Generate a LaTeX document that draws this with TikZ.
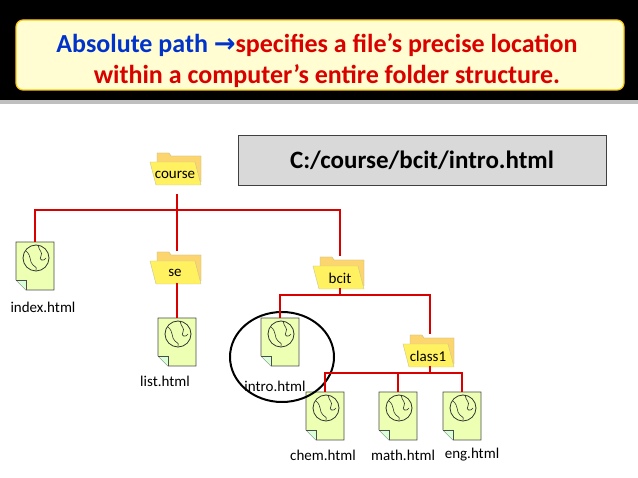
\documentclass[tikz,border=0pt]{standalone}
\usepackage{fontspec}
\setmainfont{Carlito}
\newfontfamily\arrowfont{DejaVu Sans}
\begin{document}
\begin{tikzpicture}[x=1pt,y=-1pt,
  conn/.style={draw=red!85!black,line width=1.1pt},
  lbl/.style={font=\fontsize{15}{17}\selectfont,inner sep=0},
  fileicon/.pic={
    \fill[fill=green!25!yellow!30!white,draw=black!70,line width=0.6pt] (-19,-24)--(19,-24)--(19,24)--(-9,24)--(-19,14)--cycle;
    \draw[black!70,line width=0.6pt,fill=green!15!white] (-19,14)--(-9,14)--(-9,24);
    \draw[black!80,line width=0.8pt] (1,-8) circle (13);
    \draw[black!80,line width=0.6pt] (-9,-15) .. controls (-3,-10) and (-6,-4) .. (-2,-1) .. controls (0,2) and (2,0) .. (1,4);
    \draw[black!80,line width=0.6pt] (3,-21) .. controls (4,-15) and (8,-14) .. (6,-10) .. controls (3,-6) and (9,-4) .. (11,-8);
    \node (-c) at (0,0) [minimum width=38pt,minimum height=48pt] {};
  },
  foldericon/.pic={
    \fill[yellow!45!orange!55!white,draw=yellow!50!black!60] (-20,-15)--(-8,-15)--(-6,-12)--(24,-12)--(24,14)--(-20,14)--cycle;
    \fill[yellow!60!white!95!orange,draw=yellow!50!black!50] (-27,-6)--(18,-6)--(24,17)--(-21,17)--cycle;
    \node (-c) at (0,0) [minimum width=48pt,minimum height=32pt] {};
  }]
\useasboundingbox (0,0) rectangle (638,478);
\fill[white] (0,0) rectangle (638,478);
\fill[black] (0,0) rectangle (638,100);
\fill[black!25] (0,100) rectangle (638,104);
\node (title) [draw=yellow!60!orange,line width=1.2pt,fill=yellow!18!white,rounded corners=7pt,minimum width=608pt,minimum height=70pt] at (320,55) {};
\node (t1) at (317,45) {\fontsize{26}{29}\selectfont\bfseries\color{blue!75!cyan!80!black}Absolute path {\arrowfont\bfseries→}\color{red!85!black}specifies a file’s precise location};
\node (t2) at (327,76) {\fontsize{26}{29}\selectfont\bfseries\color{red!85!black}within a computer’s entire folder structure.};
\node (path) [draw=black!75,line width=0.8pt,fill=black!15,minimum width=368pt,minimum height=50pt] at (422,160) {\fontsize{25}{28}\selectfont\bfseries C:/course/bcit/intro.html};

\pic (course) at (177,168) {foldericon};
\node[lbl] (coursel) at (175,175) {course};
\pic (se) at (177,267) {foldericon};
\node[lbl] (sel) at (175,273) {se};
\pic (bcit) at (340,272) {foldericon};
\node[lbl] (bcitl) at (340,278) {bcit};
\pic (class) at (430,350) {foldericon};
\node[lbl] (classl) at (428,356) {class1};

\pic (index) at (35,266) {fileicon};
\node[lbl] (indexl) at (43,307) {index.html};
\pic (list) at (177,342) {fileicon};
\node[lbl] (listl) at (165,381) {list.html};
\pic (intro) at (280,342) {fileicon};
\node[lbl] (introl) at (275,386) {intro.html};
\pic (chem) at (325,416) {fileicon};
\node[lbl] (cheml) at (323,455) {chem.html};
\pic (math) at (398,416) {fileicon};
\node[lbl] (mathl) at (403,455) {math.html};
\pic (eng) at (462,416) {fileicon};
\node[lbl] (engl) at (472,455) {eng.html};

\draw[black,line width=2pt] (282,357) ellipse (52 and 45);

\coordinate (h1) at (177,210);
\draw[conn] (course-c.south)+(0,10) -- (h1);
\draw[conn] (h1) -| (index-c.north);
\draw[conn] (h1) -- (se-c.north);
\draw[conn] (h1) -| (bcit-c.north);
\draw[conn] (se-c.south) -- (list-c.north);
\coordinate (h2) at (340,295);
\draw[conn] (bcit-c.south) -- (h2);
\draw[conn] (h2) -| (intro-c.north);
\draw[conn] (h2) -| (class-c.north);
\coordinate (h3) at (430,373);
\draw[conn] (class-c.south) -- (h3);
\draw[conn] (h3) -| (chem-c.north);
\draw[conn] (h3) -| (math-c.north);
\draw[conn] (h3) -| (eng-c.north);
\end{tikzpicture}
\end{document}
